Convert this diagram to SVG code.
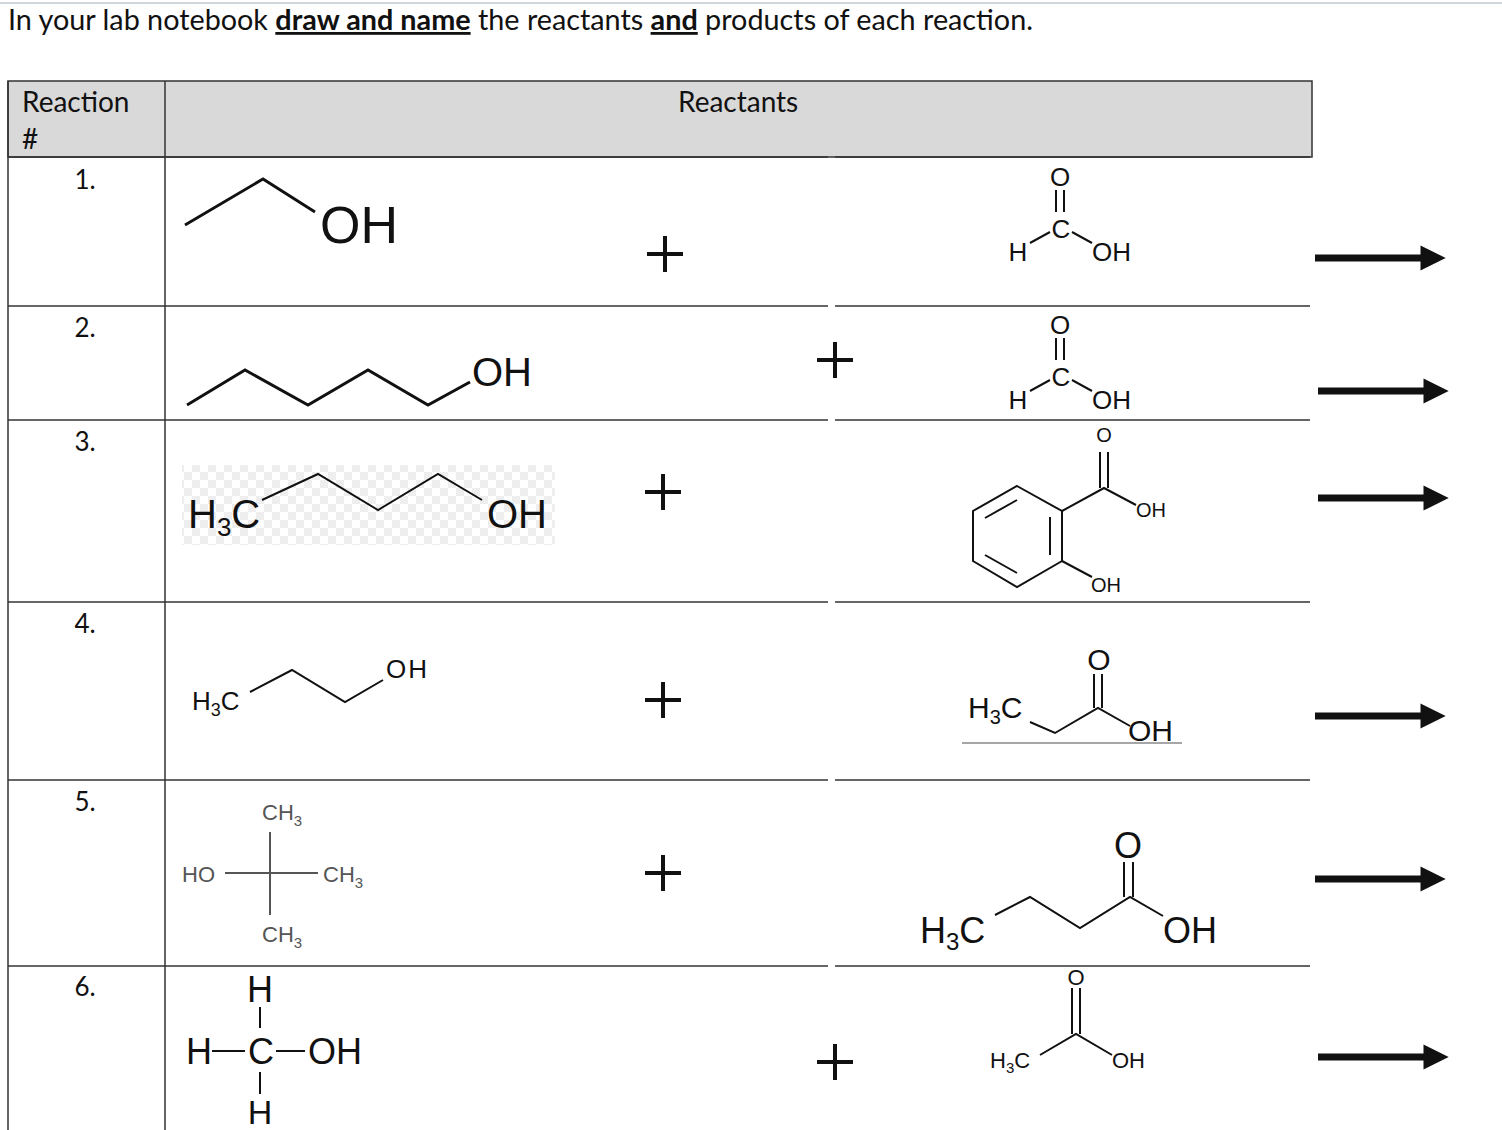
<svg xmlns="http://www.w3.org/2000/svg" width="1502" height="1130" viewBox="0 0 1502 1130">
<style>
.t{font-family:Lato,"Liberation Sans",sans-serif;fill:#111}
.c{font-family:"Liberation Sans",Arial,sans-serif;fill:#111}
.g{font-family:"Liberation Sans",Arial,sans-serif;fill:#555}
.b{fill:none;stroke:#111;stroke-width:3;stroke-linejoin:miter}
.bt{fill:none;stroke:#111;stroke-width:2}
.bg{fill:none;stroke:#555;stroke-width:2}
.grid{stroke:#333;stroke-width:1.5}
.plus{stroke:#111;stroke-width:4}
.arr{stroke:#111;stroke-width:7}
</style>
<defs>
<pattern id="chk" width="16" height="16" patternUnits="userSpaceOnUse"><rect width="16" height="16" fill="#fff"/><rect width="8" height="8" fill="#eee"/><rect x="8" y="8" width="8" height="8" fill="#eee"/></pattern>
<marker id="ah" viewBox="0 0 10 10" refX="1" refY="5" markerWidth="3.6" markerHeight="6" orient="auto" markerUnits="strokeWidth"><path d="M0,0 L10,5 L0,10 Z" fill="#111"/></marker>
</defs>
<rect width="1502" height="1130" fill="#fff"/>
<line x1="0" y1="3" x2="1502" y2="3" stroke="#d0d6dc" stroke-width="2"/>
<text class="t" x="8" y="30" font-size="28" textLength="1025" lengthAdjust="spacingAndGlyphs">In your lab notebook <tspan font-weight="bold" text-decoration="underline">draw and name</tspan> the reactants <tspan font-weight="bold" text-decoration="underline">and</tspan> products of each reaction.</text>
<g id="table">
<rect x="8" y="81" width="1304" height="76" fill="#d9d9d9" stroke="#333" stroke-width="1.5"/>
<line class="grid" x1="8" y1="81" x2="8" y2="1130"/>
<line class="grid" x1="165" y1="81" x2="165" y2="1130"/>
<g class="grid">
<line x1="8" y1="157" x2="828" y2="157"/><line x1="835" y1="157" x2="1310" y2="157"/>
<line x1="8" y1="306" x2="828" y2="306"/><line x1="835" y1="306" x2="1310" y2="306"/>
<line x1="8" y1="420" x2="828" y2="420"/><line x1="835" y1="420" x2="1310" y2="420"/>
<line x1="8" y1="602" x2="828" y2="602"/><line x1="835" y1="602" x2="1310" y2="602"/>
<line x1="8" y1="780" x2="828" y2="780"/><line x1="835" y1="780" x2="1310" y2="780"/>
<line x1="8" y1="966" x2="828" y2="966"/><line x1="835" y1="966" x2="1310" y2="966"/>
</g>
<text class="t" x="22" y="112" font-size="28">Reaction</text>
<text class="t" x="22" y="149" font-size="28">#</text>
<text class="t" x="678" y="112" font-size="28">Reactants</text>
<g font-size="26" text-anchor="middle">
<text class="t" x="85" y="189">1.</text><text class="t" x="85" y="337">2.</text><text class="t" x="85" y="451">3.</text>
<text class="t" x="85" y="633">4.</text><text class="t" x="85" y="811">5.</text><text class="t" x="85" y="996">6.</text>
</g>
</g>
<g id="pluses" class="plus">
<path d="M647,254H683M665,236V272"/>
<path d="M817,360H853M835,342V378"/>
<path d="M645,492H681M663,474V510"/>
<path d="M645,700H681M663,682V718"/>
<path d="M645,873H681M663,855V891"/>
<path d="M817,1062H853M835,1044V1080"/>
</g>
<g id="connectors" class="arr">
<line x1="1315" y1="258" x2="1423" y2="258" marker-end="url(#ah)"/>
<line x1="1318" y1="391" x2="1426" y2="391" marker-end="url(#ah)"/>
<line x1="1318" y1="498" x2="1426" y2="498" marker-end="url(#ah)"/>
<line x1="1315" y1="716" x2="1423" y2="716" marker-end="url(#ah)"/>
<line x1="1315" y1="879" x2="1423" y2="879" marker-end="url(#ah)"/>
<line x1="1318" y1="1057" x2="1426" y2="1057" marker-end="url(#ah)"/>
</g>
<g id="r1-ethanol"><polyline class="b" points="185,225 263,179 315,212"/><text class="c" x="320" y="243" font-size="52">OH</text></g>
<g id="r1-formic">
<text class="c" x="1060" y="186" font-size="26" text-anchor="middle">O</text>
<path class="bt" d="M1056,190V212M1064,190V212M1030,243L1050,232M1072,232L1092,243"/>
<text class="c" x="1061" y="238" font-size="26" text-anchor="middle">C</text>
<text class="c" x="1018" y="261" font-size="26" text-anchor="middle">H</text>
<text class="c" x="1092" y="261" font-size="26">OH</text>
</g>
<g id="r2-butanol"><polyline class="b" points="187,405 245,370 308,405 368,370 428,405 470,382"/><text class="c" x="472" y="386" font-size="40">OH</text></g>
<g id="r2-formic">
<text class="c" x="1060" y="334" font-size="26" text-anchor="middle">O</text>
<path class="bt" d="M1056,338V360M1064,338V360M1030,391L1050,380M1072,380L1092,391"/>
<text class="c" x="1061" y="386" font-size="26" text-anchor="middle">C</text>
<text class="c" x="1018" y="409" font-size="26" text-anchor="middle">H</text>
<text class="c" x="1092" y="409" font-size="26">OH</text>
</g>
<g id="r3-butanol">
<rect x="182" y="465" width="373" height="80" fill="url(#chk)"/>
<text class="c" x="188" y="528" font-size="40">H<tspan font-size="26" dy="8">3</tspan><tspan dy="-8">C</tspan></text>
<polyline class="bt" points="262,500 318,474 378,510 438,474 482,500"/>
<text class="c" x="487" y="528" font-size="40">OH</text>
</g>
<g id="r3-salicylic">
<polygon class="bt" points="1017,486 1062,511 1062,561 1017,587 973,561 973,511"/>
<path class="bt" d="M985,518L1017,500M1050,517V555M985,555L1017,573M1062,511L1104,488L1136,505M1100,488V452M1108,488V452M1062,561L1092,577"/>
<text class="c" x="1104" y="442" font-size="20" text-anchor="middle">O</text>
<text class="c" x="1136" y="517" font-size="20">OH</text>
<text class="c" x="1091" y="592" font-size="20">OH</text>
</g>
<g id="r4-propanol">
<text class="c" x="192" y="710" font-size="26">H<tspan font-size="18" dy="6">3</tspan><tspan dy="-6">C</tspan></text>
<polyline class="bt" points="250,692 292,670 345,702 383,680"/>
<text class="c" x="386" y="678" font-size="26" letter-spacing="2">OH</text>
</g>
<g id="r4-propanoic">
<text class="c" x="968" y="718" font-size="30">H<tspan font-size="20" dy="6">3</tspan><tspan dy="-6">C</tspan></text>
<polyline class="bt" points="1030,722 1055,733 1098,708 1130,726"/>
<path class="bt" d="M1094,708V674M1102,708V674"/>
<text class="c" x="1099" y="670" font-size="30" text-anchor="middle">O</text>
<text class="c" x="1128" y="741" font-size="30">OH</text>
<line x1="962" y1="743" x2="1182" y2="743" stroke="#888" stroke-width="1.5"/>
</g>
<g id="r5-tbutanol">
<text class="g" x="182" y="882" font-size="22">HO</text>
<path class="bg" d="M225,873H318M270,832V915"/>
<text class="g" x="262" y="820" font-size="22">CH<tspan font-size="15" dy="6">3</tspan></text>
<text class="g" x="323" y="882" font-size="22">CH<tspan font-size="15" dy="6">3</tspan></text>
<text class="g" x="262" y="942" font-size="22">CH<tspan font-size="15" dy="6">3</tspan></text>
</g>
<g id="r5-butanoic">
<text class="c" x="920" y="943" font-size="36">H<tspan font-size="24" dy="7">3</tspan><tspan dy="-7">C</tspan></text>
<polyline class="bt" points="995,915 1030,897 1080,928 1130,897 1163,916"/>
<path class="bt" d="M1124,897V862M1133,897V862"/>
<text class="c" x="1128" y="858" font-size="36" text-anchor="middle">O</text>
<text class="c" x="1163" y="943" font-size="36">OH</text>
</g>
<g id="r6-methanol">
<text class="c" x="260" y="1002" font-size="36" text-anchor="middle">H</text>
<path class="bt" d="M260,1007V1028M212,1051H245M276,1051H305M260,1072V1094"/>
<text class="c" x="186" y="1064" font-size="36">H</text>
<text class="c" x="248" y="1064" font-size="36">C</text>
<text class="c" x="308" y="1064" font-size="36">OH</text>
<text class="c" x="260" y="1124" font-size="34" text-anchor="middle">H</text>
</g>
<g id="r6-acetic">
<text class="c" x="990" y="1068" font-size="22">H<tspan font-size="15" dy="5">3</tspan><tspan dy="-5">C</tspan></text>
<polyline class="bt" points="1040,1055 1076,1034 1112,1055"/>
<path class="bt" d="M1072,1034V988M1080,1034V988"/>
<text class="c" x="1076" y="985" font-size="22" text-anchor="middle">O</text>
<text class="c" x="1112" y="1068" font-size="22">OH</text>
</g>
</svg>
